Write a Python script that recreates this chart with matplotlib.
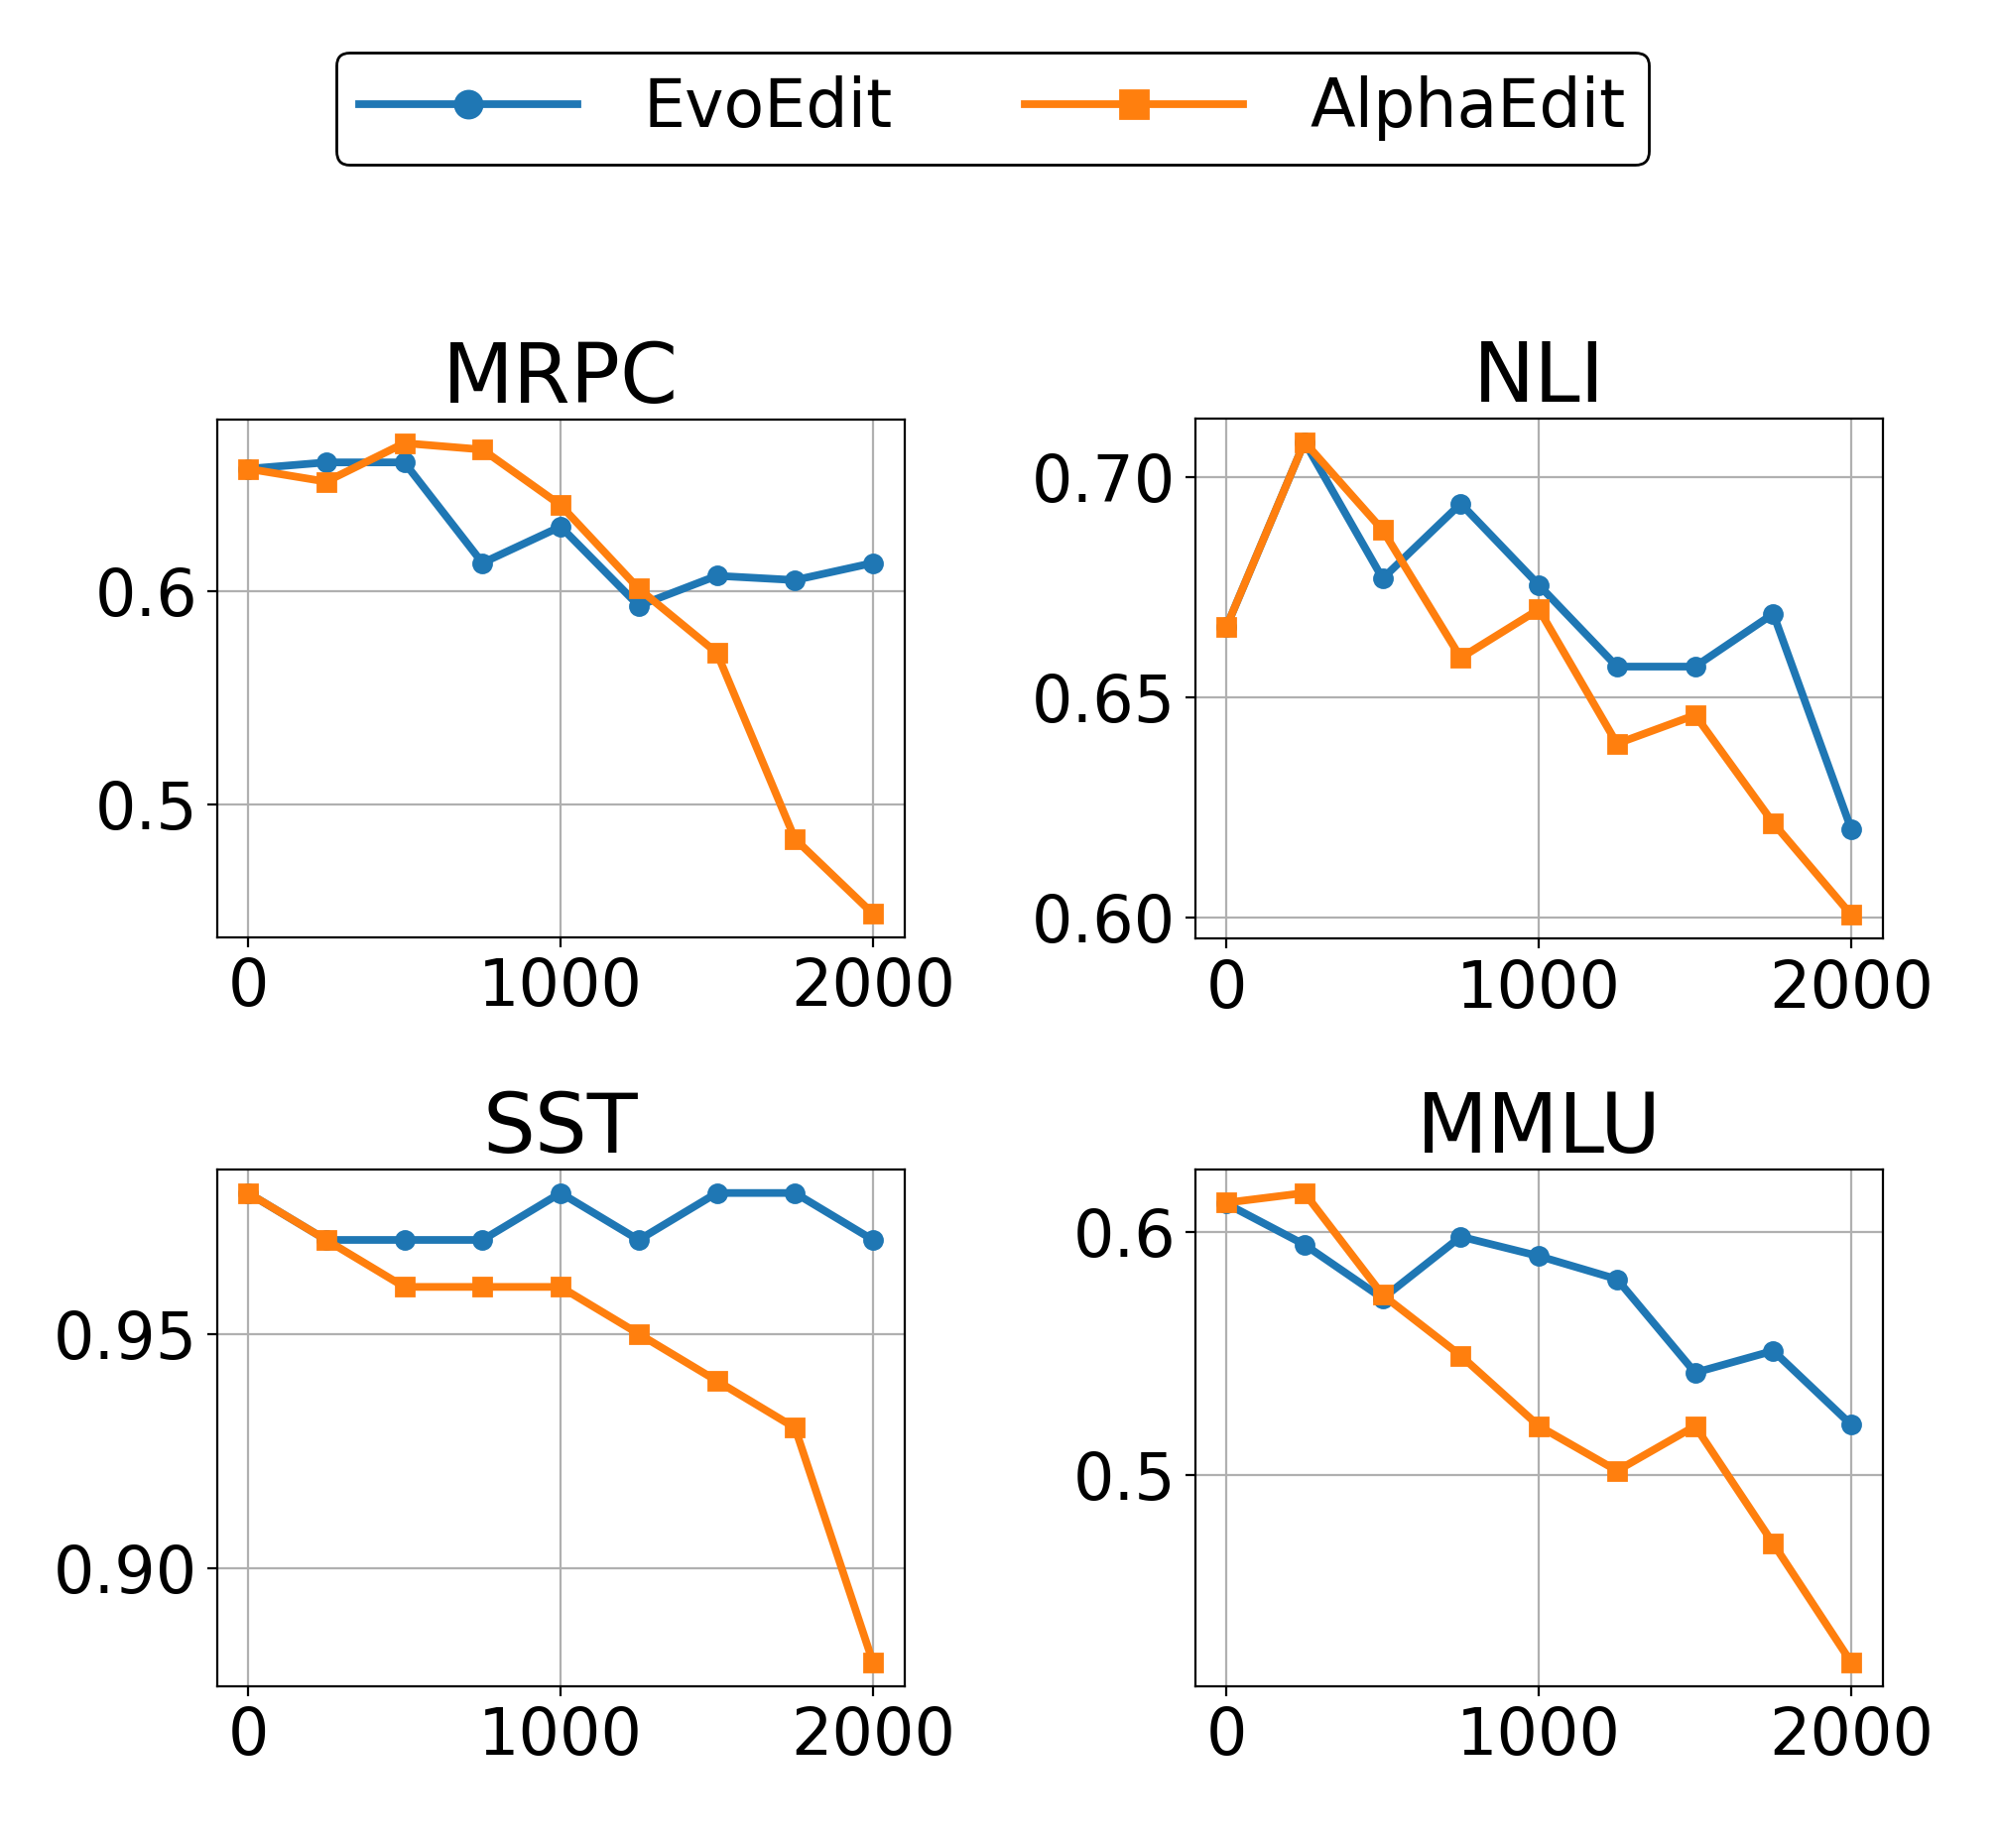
import matplotlib
matplotlib.use("Agg")
import matplotlib.pyplot as plt

steps = [0, 250, 500, 750, 1000, 1250, 1500, 1750, 2000]
titles = ["MRPC", "NLI", "SST", "MMLU"]

evo_mrpc = [0.657, 0.660, 0.660, 0.613, 0.630, 0.593, 0.607, 0.605, 0.613]
alpha_mrpc = [0.657, 0.651, 0.669, 0.666, 0.640, 0.601, 0.571, 0.484, 0.449]

evo_nli = [0.666, 0.708, 0.677, 0.694, 0.6755, 0.657, 0.657, 0.669, 0.620]
alpha_nli = [0.666, 0.708, 0.688, 0.659, 0.670, 0.6395, 0.646, 0.6215, 0.6006]

evo_sst = [0.98, 0.97, 0.97, 0.97, 0.98, 0.97, 0.98, 0.98, 0.97]
alpha_sst = [0.98, 0.97, 0.96, 0.96, 0.96, 0.95, 0.94, 0.93, 0.88]

evo_mmlu = [0.6116, 0.5947, 0.5726, 0.598, 0.590, 0.5805, 0.542, 0.551, 0.5205]
alpha_mmlu = [0.612, 0.616, 0.574, 0.549, 0.520, 0.5016, 0.520, 0.4716, 0.4226]

evo_series = [evo_mrpc, evo_nli, evo_sst, evo_mmlu]
alpha_series = [alpha_mrpc, alpha_nli, alpha_sst, alpha_mmlu]

yticks = [[0.5, 0.6], [0.60, 0.65, 0.70], [0.90, 0.95], [0.5, 0.6]]
yticklabels = [["0.5", "0.6"], ["0.60", "0.65", "0.70"], ["0.90", "0.95"], ["0.5", "0.6"]]
xticks = [0, 1000, 2000]

fig = plt.figure(figsize=(10.08, 9.315), dpi=200)

W, H = 1568.0, 1449.0
boxes = [
    (170, 329, 709, 735),
    (937, 328, 1476, 736),
    (170, 917, 709, 1322),
    (937, 917, 1476, 1322),
]

handles = None
for i, (x0, y0, x1, y1) in enumerate(boxes):
    ax = fig.add_axes([x0 / W, 1 - y1 / H, (x1 - x0) / W, (y1 - y0) / H])
    l1, = ax.plot(steps, evo_series[i], color="#1f77b4", marker="o", lw=2.8,
                  markersize=6.5, label="EvoEdit")
    l2, = ax.plot(steps, alpha_series[i], color="#ff7f0e", marker="s", lw=2.8,
                  markersize=6.5, label="AlphaEdit")
    handles = [l1, l2]
    ax.set_title(titles[i], fontsize=30, pad=6)
    ax.set_xticks(xticks)
    ax.set_yticks(yticks[i])
    ax.set_yticklabels(yticklabels[i])
    ax.tick_params(labelsize=23.5)
    ax.grid(True, color="#b0b0b0", lw=0.8)
    ax.set_axisbelow(True)

fig.legend(handles=handles, labels=["EvoEdit", "AlphaEdit"], loc="center",
           bbox_to_anchor=(778 / W, 1 - 85 / H), ncol=2, fontsize=24,
           frameon=True, fancybox=True, edgecolor="black", framealpha=1,
           handlelength=3.3, handletextpad=1.0, columnspacing=2.0,
           markerscale=1.5, borderpad=0.35)

fig.savefig("out.png", dpi=200)
